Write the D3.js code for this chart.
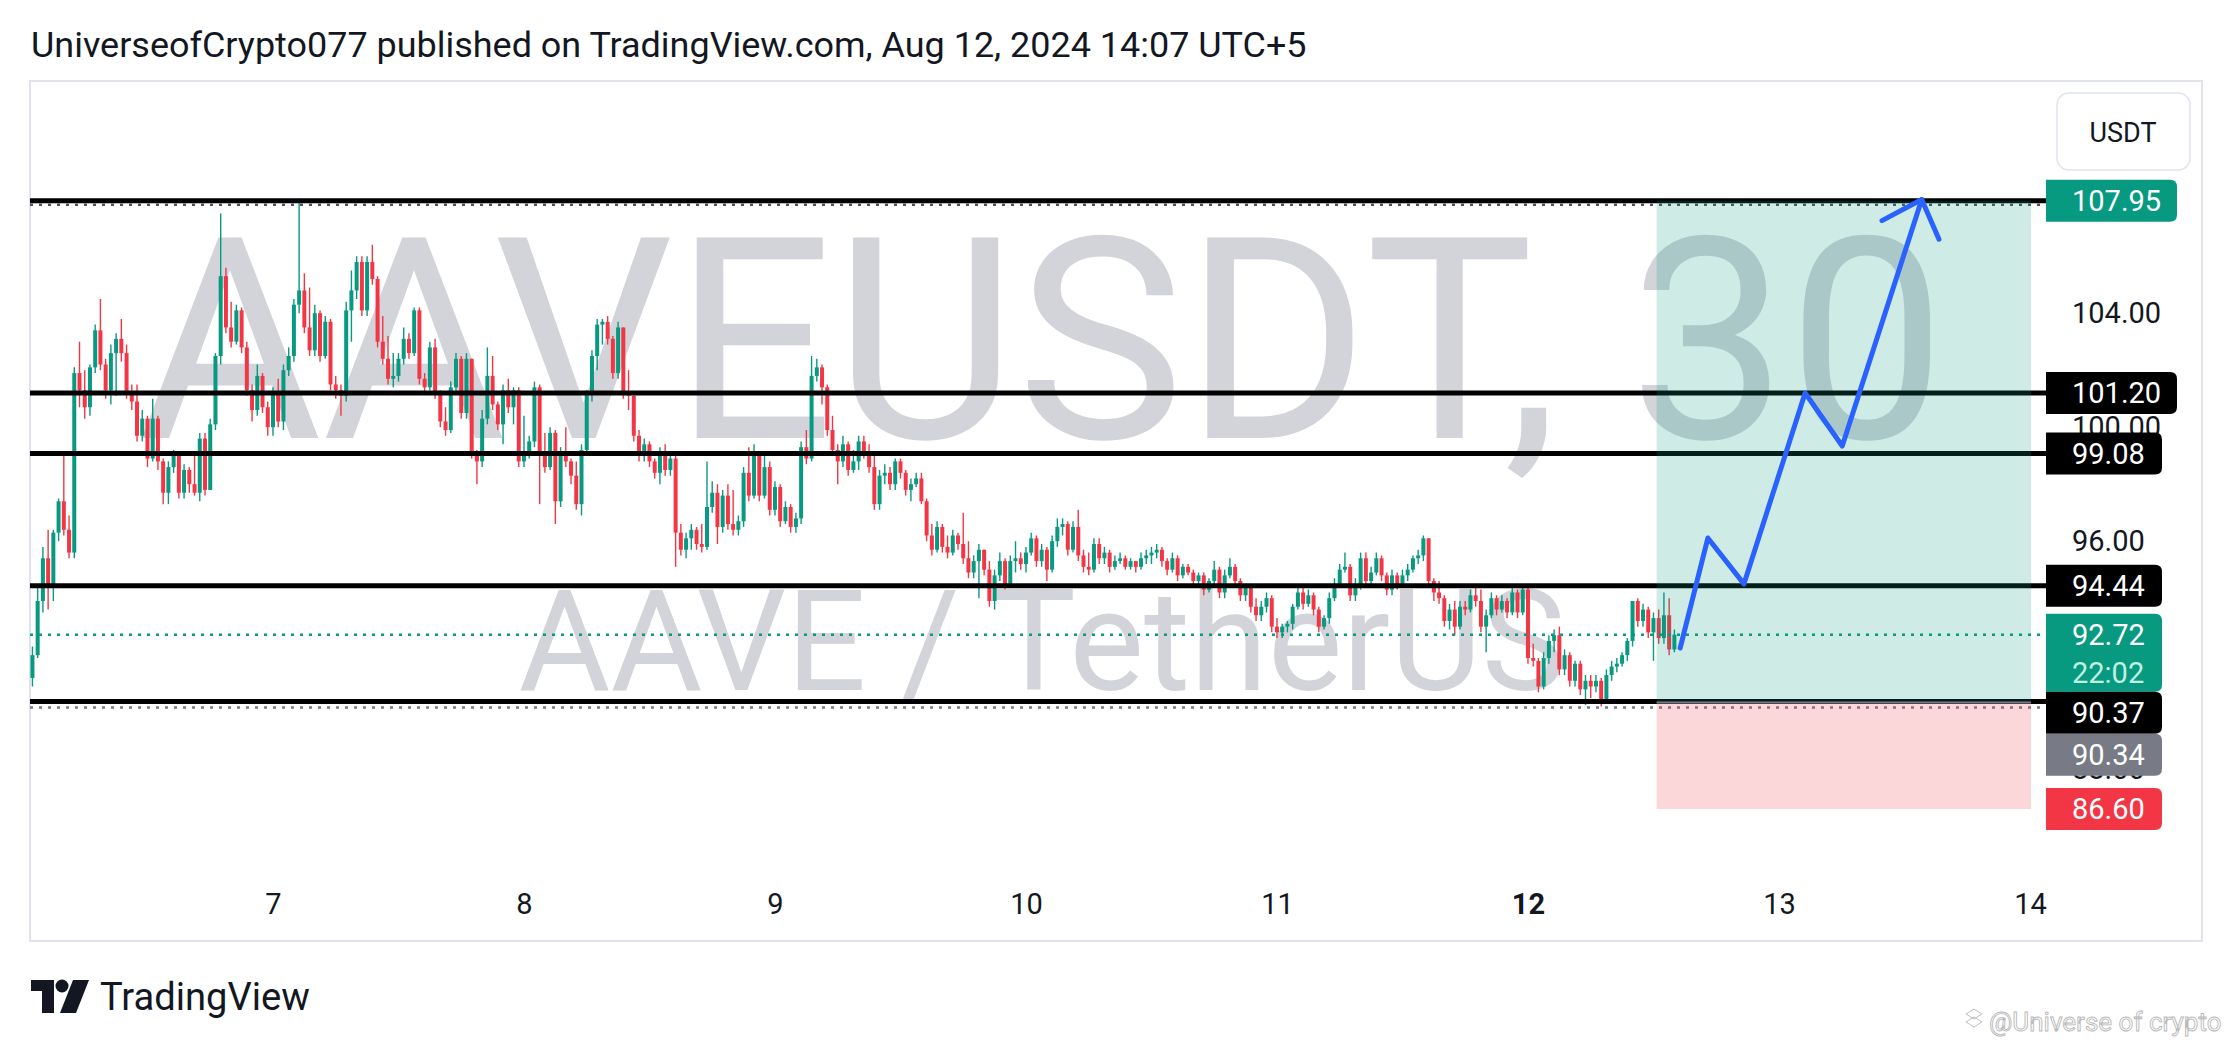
<!DOCTYPE html>
<html><head><meta charset="utf-8">
<script src="https://cdn.jsdelivr.net/npm/d3@7"></script>
<style>html,body{margin:0;padding:0;background:#fff;} svg{display:block;font-family:Roboto,"Noto Sans",sans-serif;}</style>
</head><body>
<svg id="c" width="2232" height="1047"></svg>
<script>
// ---------------- DATA ----------------
const titleText = "UniverseofCrypto077 published on TradingView.com, Aug 12, 2024 14:07 UTC+5";
const symbolText = "AAVEUSDT, 30";
const descText = "AAVE / TetherUS";
const barStart = "2024-08-06T01:00:00Z";   // first 30-minute bar
const barMinutes = 30;
const firstOpen = 91.2;
const closes = [
92.0,93.9,95.4,94.5,96.3,97.4,96.4,95.6,101.9,101.3,
100.7,102.1,103.4,102.2,101.3,102.6,103.1,102.6,101.2,100.9,
99.7,100.3,98.9,100.3,98.8,97.7,98.6,99.0,97.7,98.5,
98.0,97.7,99.6,97.8,100.1,102.5,105.3,103.5,103.0,104.1,
102.8,101.3,100.6,101.8,100.7,100.0,101.2,100.2,102.0,102.5,
104.3,104.8,103.5,102.7,104.0,102.5,103.7,101.5,101.3,101.1,
104.1,104.8,105.8,104.1,
105.8,105.2,103.0,102.4,101.7,101.8,102.4,103.1,102.6,104.1,
101.7,101.4,102.8,101.2,100.2,99.9,101.4,102.4,100.5,102.4,
99.0,98.8,100.3,101.8,100.8,100.1,101.3,100.7,101.3,98.8,
99.0,99.5,101.4,99.0,98.6,99.8,97.4,99.1,98.8,98.3,
97.3,99.2,101.2,102.5,103.6,103.7,103.1,101.9,103.5,101.2,
101.1,99.7,99.0,99.4,98.8,98.4,99.1,98.5,98.9,96.3,95.7,
96.1,96.4,95.9,95.8,97.2,97.7,96.5,97.6,96.6,96.4,
96.7,98.4,97.6,99.1,97.6,98.6,97.1,97.9,96.7,97.2,
96.5,96.8,99.3,98.9,101.8,102.1,101.4,99.9,99.2,98.8,
99.4,98.5,98.8,99.5,99.1,98.6,97.3,98.3,98.4,98.0,
98.8,98.4,97.8,98.0,98.2,97.4,96.2,95.7,96.5,95.8,
95.6,96.2,95.9,95.4,94.9,95.3,95.7,95.0,93.9,94.8,
95.3,94.5,95.3,95.4,95.2,
95.6,96.1,95.3,95.7,95.0,96.0,96.5,96.6,95.7,96.5,
95.5,95.1,95.0,95.9,95.4,95.6,95.1,95.3,95.4,95.1,
95.3,95.1,95.4,95.5,95.6,95.7,95.3,95.0,95.4,94.8,
95.1,94.9,94.6,94.8,94.3,94.6,95.0,94.2,94.8,95.1,
94.6,94.1,94.4,93.7,93.4,93.7,94.0,93.0,92.8,93.0,
93.1,93.7,94.2,93.8,94.1,93.6,93.0,93.3,94.0,94.5,
95.0,95.1,94.1,
94.5,95.4,94.6,94.9,95.4,94.8,94.3,94.8,94.5,94.8,
95.0,95.4,95.5,96.1,94.6,94.2,94.0,93.2,93.6,93.0,
93.7,93.6,94.1,93.9,93.0,93.4,94.0,93.6,93.9,93.5,
94.2,93.5,94.3,91.9,91.8,90.9,91.9,92.5,92.7,91.5,
92.0,91.1,91.7,90.8,91.1,90.9,91.1,90.4,91.3,91.6,
91.7,92.0,92.5,93.9,93.2,93.6,92.8,93.3,92.6,93.4,
92.2,92.72];
const highs = [
92.3,94.4,95.8,96.4,96.4,97.5,99.0,96.9,102.1,103.0,
102.0,102.2,103.6,104.5,102.4,102.9,103.3,103.8,102.9,101.5,
101.5,100.6,100.4,101.0,100.4,98.9,98.8,99.2,99.1,98.7,
98.6,99.1,99.8,99.8,100.3,102.6,107.5,105.6,104.4,104.3,
104.2,103.0,101.5,102.2,101.9,100.9,101.4,101.7,102.2,102.8,
104.5,107.95,105.4,104.9,104.3,104.1,103.9,103.8,101.8,101.5,
104.4,105.5,106.0,106.0,
106.0,106.4,105.3,103.9,103.2,102.6,102.6,103.5,103.3,104.2,
104.2,101.9,103.0,103.1,101.3,100.7,101.6,102.6,102.5,102.6,
102.4,99.2,100.6,102.8,102.5,100.9,101.5,101.7,101.4,101.4,
100.4,99.7,101.6,101.5,99.8,100.0,99.9,99.3,100.0,98.9,
98.8,99.4,101.3,102.7,103.8,103.8,103.9,103.2,103.7,103.5,
102.0,101.2,99.9,99.6,99.5,98.9,99.3,99.4,99.1,99.0,96.6,
96.3,96.6,96.5,96.6,98.8,98.1,98.0,97.8,98.0,97.8,
96.9,98.6,99.3,99.4,98.6,99.1,98.8,98.1,98.0,97.4,
97.3,97.0,99.5,99.9,102.5,102.4,102.2,101.5,100.4,99.4,
99.7,99.5,99.2,99.7,99.7,99.4,99.0,98.5,98.7,98.6,
98.9,98.9,98.5,98.2,98.4,98.4,97.5,96.6,96.7,96.6,
96.2,96.4,96.3,97.0,96.0,95.5,95.9,95.7,95.3,95.0,
95.6,95.4,95.5,96.0,95.6,
95.8,96.3,96.2,95.9,95.8,96.2,96.8,96.8,96.7,96.7,
97.1,95.7,95.6,96.1,96.1,95.8,95.7,95.5,95.6,95.5,
95.4,95.3,95.6,95.7,95.8,95.9,95.8,95.4,95.6,95.5,
95.2,95.2,95.0,94.9,94.9,94.7,95.3,95.1,95.0,95.4,
95.2,94.7,94.5,94.5,94.0,93.9,94.2,94.1,93.3,93.1,
93.2,93.8,94.4,94.4,94.3,94.2,93.7,93.4,94.2,94.7,
95.2,95.6,95.2,
94.7,95.6,95.6,95.1,95.6,95.5,94.9,95.0,94.9,95.0,
95.2,95.5,95.7,96.2,96.1,94.7,94.6,94.1,93.8,93.9,
93.9,93.9,94.3,94.4,94.3,93.6,94.2,94.1,94.1,94.0,
94.4,94.3,94.4,94.4,92.4,91.9,92.1,92.7,92.9,93.0,
92.2,92.1,91.8,91.8,91.3,91.3,91.3,91.2,91.5,91.8,
91.9,92.1,92.6,93.9,94.0,93.8,93.7,93.5,93.6,94.2,
94.0,92.9];
const lows = [
90.9,91.9,93.5,93.6,93.9,96.0,96.2,95.4,95.4,100.7,
100.3,100.4,101.9,102.0,101.0,100.8,101.1,102.3,101.0,100.6,
99.5,99.5,98.6,98.8,98.5,97.3,97.3,98.4,97.5,97.5,
97.7,97.6,97.4,97.6,98.1,99.9,102.2,103.3,102.8,102.9,
102.6,101.1,100.2,100.4,100.5,99.7,99.7,100.0,99.9,101.8,
102.3,104.0,103.3,102.5,102.5,102.3,102.4,101.3,101.0,100.4,
100.9,103.0,104.5,103.9,
103.9,105.0,102.8,102.2,101.5,101.4,101.6,102.2,102.4,102.5,
101.5,101.2,101.3,101.0,100.0,99.7,99.8,101.2,100.3,100.3,
98.9,98.0,98.6,100.1,100.6,99.9,99.4,100.5,100.1,98.6,
98.6,98.9,99.3,97.3,98.4,98.5,96.6,97.2,98.6,98.0,
97.1,96.9,99.0,100.9,102.0,102.9,102.9,101.7,101.7,101.0,
100.6,99.5,98.8,98.8,98.6,98.2,98.0,98.3,98.3,95.1,95.5,
95.4,95.7,95.7,95.6,95.7,97.0,95.9,96.3,96.4,96.2,
96.2,96.5,97.4,97.5,97.4,97.5,96.9,96.9,96.5,96.6,
96.3,96.3,96.6,98.7,98.8,101.6,100.8,99.7,99.0,98.0,
98.6,98.3,98.4,98.5,98.9,98.4,97.1,97.1,98.0,97.8,
97.8,98.2,97.6,97.4,97.9,97.3,96.0,95.5,95.6,95.6,
95.4,95.5,95.7,95.2,94.7,94.7,94.0,94.8,93.7,93.6,
94.6,94.3,94.4,94.9,95.0,
94.9,95.5,95.1,95.1,94.6,94.9,95.8,96.2,95.5,95.6,
95.3,94.9,94.8,94.9,95.2,95.2,94.9,95.0,95.2,95.0,
95.0,94.9,95.0,95.2,95.2,95.4,95.1,94.8,94.9,94.6,
94.7,94.8,94.4,94.4,94.1,94.2,94.4,94.0,94.0,94.7,
94.4,93.9,93.9,93.5,93.2,93.2,93.5,92.8,92.6,92.6,
92.8,92.9,93.6,93.6,93.7,93.4,92.8,92.9,93.1,93.9,
94.4,94.9,93.9,
93.9,94.3,94.4,94.4,94.8,94.6,94.1,94.1,94.3,94.4,
94.6,94.9,95.2,95.3,94.4,93.9,93.8,93.0,92.9,92.7,
92.9,93.4,93.5,93.7,92.8,92.1,93.3,93.4,93.5,93.3,
93.4,93.3,93.4,91.7,91.6,90.7,90.8,91.7,92.1,91.3,
91.3,90.9,90.9,90.6,90.25,90.5,90.7,90.2,90.3,91.1,
91.4,91.6,91.8,92.3,93.0,93.0,92.6,91.8,92.4,92.4,
92.0,92.1];

const viewStart = "2024-08-06T00:46:00Z";
const viewEnd   = "2024-08-14T01:32:00Z";
const priceMin = 84.46, priceMax = 112.15;
const priceTicks = [88, 96, 100, 104];
const dayTicks = ["2024-08-07","2024-08-08","2024-08-09","2024-08-10","2024-08-11","2024-08-12","2024-08-13","2024-08-14"];
const dayLabels = ["7","8","9","10","11","12","13","14"];
const boldDay = "12";

const levelPrices = [107.95, 101.20, 99.08, 94.44, 90.37];
const lastPrice = 92.72;
const countdown = "22:02";
const entryPrice = 90.34, targetPrice = 107.95, stopPrice = 86.60;
const posStart = "2024-08-12T12:18:00Z", posEnd = "2024-08-14T00:06:00Z";

const pathTimes  = ["2024-08-12T14:33:00Z","2024-08-12T17:12:00Z","2024-08-12T20:39:00Z","2024-08-13T02:30:00Z","2024-08-13T06:03:00Z","2024-08-13T13:39:00Z"];
const pathPrices = [92.25, 96.11, 94.5, 101.2, 99.34, 107.99];
const arrowTimes  = ["2024-08-13T09:51:00Z","2024-08-13T13:39:00Z","2024-08-13T15:18:00Z"];
const arrowPrices = [107.25, 107.99, 106.6];

const scaleLabels = [
  {price: 107.95, text: "107.95", kind: "target"},
  {price: 101.20, text: "101.20", kind: "level"},
  {price: 99.08,  text: "99.08",  kind: "level"},
  {price: 94.44,  text: "94.44",  kind: "level"},
  {price: 92.72,  text: "92.72",  kind: "last"},
  {price: 90.37,  text: "90.37",  kind: "level"},
  {price: 90.34,  text: "90.34",  kind: "entry"},
  {price: 86.60,  text: "86.60",  kind: "stop"}
];

// ---------------- LAYOUT / STYLE ----------------
const pane = {left: 30, right: 2046, top: 81, bottom: 870};
const UP = "#089981", DOWN = "#f23645", TEXT = "#131722";
const svg = d3.select("#c");

const parse = d3.utcParse("%Y-%m-%dT%H:%M:%SZ");
const x = d3.scaleUtc().domain([parse(viewStart), parse(viewEnd)]).range([pane.left, pane.right]);
const y = d3.scaleLinear().domain([priceMin, priceMax]).range([pane.bottom, pane.top]);

const t0 = parse(barStart);
const bars = closes.map((c, i) => {
  const o = i === 0 ? firstOpen : closes[i - 1];
  return {t: d3.utcMinute.offset(t0, i * barMinutes), o, c,
          h: Math.max(highs[i], o, c), l: Math.min(lows[i], o, c)};
});

// title
const title = svg.append("text").attr("x", 31).attr("y", 57).attr("font-size", 35)
  .attr("fill", TEXT).text(titleText);
{ const w = title.node().getComputedTextLength(); title.attr("font-size", 35 * 1276 / w); }

// frame
svg.append("rect").attr("x", 30).attr("y", 81).attr("width", 2172).attr("height", 860)
  .attr("fill", "none").attr("stroke", "#e0e3eb").attr("stroke-width", 2);

svg.append("clipPath").attr("id", "pc").append("rect")
  .attr("x", pane.left).attr("y", pane.top).attr("width", pane.right - pane.left).attr("height", pane.bottom - pane.top);
const P = svg.append("g").attr("clip-path", "url(#pc)");

// watermark
const cx = (pane.left + pane.right) / 2 + 4;
P.append("text").attr("x", cx).attr("y", 438).attr("text-anchor", "middle")
  .attr("font-size", 282).attr("fill", "#d2d4d9").text(symbolText);
P.append("text").attr("x", cx).attr("y", 690).attr("text-anchor", "middle")
  .attr("font-size", 141).attr("fill", "#d2d4d9").text(descText);

// candles
const cw = 4;
const cg = P.append("g");
cg.selectAll("line.w").data(bars).join("line")
  .attr("x1", d => x(d.t)).attr("x2", d => x(d.t))
  .attr("y1", d => y(d.h)).attr("y2", d => y(d.l))
  .attr("stroke", d => d.c >= d.o ? UP : DOWN).attr("stroke-width", 1.4);
cg.selectAll("rect").data(bars).join("rect")
  .attr("x", d => x(d.t) - cw / 2).attr("width", cw)
  .attr("y", d => y(Math.max(d.o, d.c)))
  .attr("height", d => Math.max(1.5, Math.abs(y(d.o) - y(d.c))))
  .attr("fill", d => d.c >= d.o ? UP : DOWN);

// horizontal levels
P.selectAll("line.lvl").data(levelPrices).join("line")
  .attr("x1", pane.left).attr("x2", pane.right)
  .attr("y1", d => y(d)).attr("y2", d => y(d))
  .attr("stroke", "#000").attr("stroke-width", 5);
P.append("line").attr("x1", pane.left).attr("x2", pane.right)
  .attr("y1", y(targetPrice) + 4).attr("y2", y(targetPrice) + 4)
  .attr("stroke", "#50535e").attr("stroke-width", 2.5).attr("stroke-dasharray", "3,6");
P.append("line").attr("x1", pane.left).attr("x2", pane.right)
  .attr("y1", y(entryPrice) + 5).attr("y2", y(entryPrice) + 5)
  .attr("stroke", "#787b86").attr("stroke-width", 2.5).attr("stroke-dasharray", "3,6");

// position box
const px0 = x(parse(posStart)), px1 = x(parse(posEnd));
P.append("rect").attr("x", px0).attr("width", px1 - px0)
  .attr("y", y(targetPrice)).attr("height", y(entryPrice) - y(targetPrice))
  .attr("fill", "rgba(8,153,129,0.2)");
P.append("rect").attr("x", px0).attr("width", px1 - px0)
  .attr("y", y(entryPrice)).attr("height", y(stopPrice) - y(entryPrice))
  .attr("fill", "rgba(242,54,69,0.2)");
P.append("line").attr("x1", px0).attr("x2", px1).attr("y1", y(entryPrice)).attr("y2", y(entryPrice))
  .attr("stroke", "#787b86").attr("stroke-width", 2);

// last price dotted line
P.append("line").attr("x1", pane.left).attr("x2", pane.right)
  .attr("y1", y(lastPrice)).attr("y2", y(lastPrice))
  .attr("stroke", UP).attr("stroke-width", 2.5).attr("stroke-dasharray", "3,6");

// blue projected path
const lineGen = d3.line().x(d => x(parse(d[0]))).y(d => y(d[1]));
P.append("path").attr("d", lineGen(pathTimes.map((t, i) => [t, pathPrices[i]])))
  .attr("fill", "none").attr("stroke", "#2962ff").attr("stroke-width", 5)
  .attr("stroke-linejoin", "round").attr("stroke-linecap", "round");
P.append("path").attr("d", lineGen(arrowTimes.map((t, i) => [t, arrowPrices[i]])))
  .attr("fill", "none").attr("stroke", "#2962ff").attr("stroke-width", 5)
  .attr("stroke-linejoin", "round").attr("stroke-linecap", "round");

// price axis
const ya = svg.append("g").attr("transform", `translate(${pane.right + 17},0)`)
  .call(d3.axisRight(y).tickValues(priceTicks).tickFormat(d3.format(".2f")).tickSize(0).tickPadding(9));
ya.select(".domain").remove();
ya.selectAll("text").attr("font-size", 29).attr("fill", TEXT).attr("font-family", "Roboto");

// time axis
const xa = svg.append("g").attr("transform", `translate(0,893)`)
  .call(d3.axisBottom(x).tickValues(dayTicks.map(d => d3.utcParse("%Y-%m-%d")(d)))
    .tickFormat((d, i) => dayLabels[i]).tickSize(0).tickPadding(0));
xa.select(".domain").remove();
xa.selectAll("text").attr("font-size", 29).attr("fill", TEXT).attr("font-family", "Roboto")
  .attr("font-weight", (d, i) => dayLabels[i] === boldDay ? 700 : 400);

// scale labels (collision pushed downward)
const kindColor = {target: UP, level: "#000", last: UP, entry: "#787b86", stop: DOWN};
const LH = 42;
let prevBottom = -Infinity;
const placed = scaleLabels.slice().sort((a, b) => b.price - a.price).map(l => {
  const h = l.kind === "last" ? 78 : LH;
  let top = y(l.price) - LH / 2;
  if (top < prevBottom) top = prevBottom;
  prevBottom = top + h;
  return Object.assign({}, l, {top, h});
});
function rrect(x0, y0, w, h, r) {
  return `M${x0},${y0}H${x0 + w - r}Q${x0 + w},${y0} ${x0 + w},${y0 + r}V${y0 + h - r}Q${x0 + w},${y0 + h} ${x0 + w - r},${y0 + h}H${x0}Z`;
}
const lg = svg.append("g");
placed.forEach(l => {
  const w = (l.kind === "target" || l.text === "101.20") ? 131 : 116;
  lg.append("path").attr("d", rrect(pane.right, l.top, w, l.h, 7)).attr("fill", kindColor[l.kind]);
  lg.append("text").attr("x", 2072).attr("y", l.top + LH / 2).attr("dy", "0.36em")
    .attr("font-size", 29).attr("fill", "#fff").text(l.text);
  if (l.kind === "last") {
    lg.append("text").attr("x", 2072).attr("y", l.top + LH / 2 + 38).attr("dy", "0.36em")
      .attr("font-size", 29).attr("fill", "#bff0e0").text(countdown);
  }
});

// currency button
svg.append("rect").attr("x", 2057).attr("y", 93).attr("width", 133).attr("height", 77).attr("rx", 12)
  .attr("fill", "#fff").attr("stroke", "#e0e3eb").attr("stroke-width", 1.5);
svg.append("text").attr("x", 2123).attr("y", 132).attr("dy", "0.36em").attr("text-anchor", "middle")
  .attr("font-size", 27).attr("fill", TEXT).text("USDT");

// TradingView logo
const logo = svg.append("g").attr("fill", TEXT);
logo.append("path").attr("d", "M31,980H54V1013H42V991H31Z");
logo.append("circle").attr("cx", 62).attr("cy", 986).attr("r", 6.5);
logo.append("path").attr("d", "M73,980H89L76,1013H60Z");
const tv = svg.append("text").attr("x", 100).attr("y", 1010).attr("font-size", 38)
  .attr("font-weight", 400).attr("fill", TEXT).text("TradingView");
{ const w = tv.node().getComputedTextLength(); tv.attr("font-size", 38 * 210 / w); }

// bottom-right mark
const wm = svg.append("g").attr("fill", "#fff").attr("stroke", "#b8b8b8").attr("stroke-width", 0.9);
wm.append("path").attr("d", "M1966,1014 l8,-5 l8,5 l-8,5 Z M1966,1022 l8,-5 l8,5 l-8,5 Z");
wm.append("text").attr("x", 1989).attr("y", 1031).attr("font-size", 26).text("@Universe of crypto");
</script>
</body></html>
